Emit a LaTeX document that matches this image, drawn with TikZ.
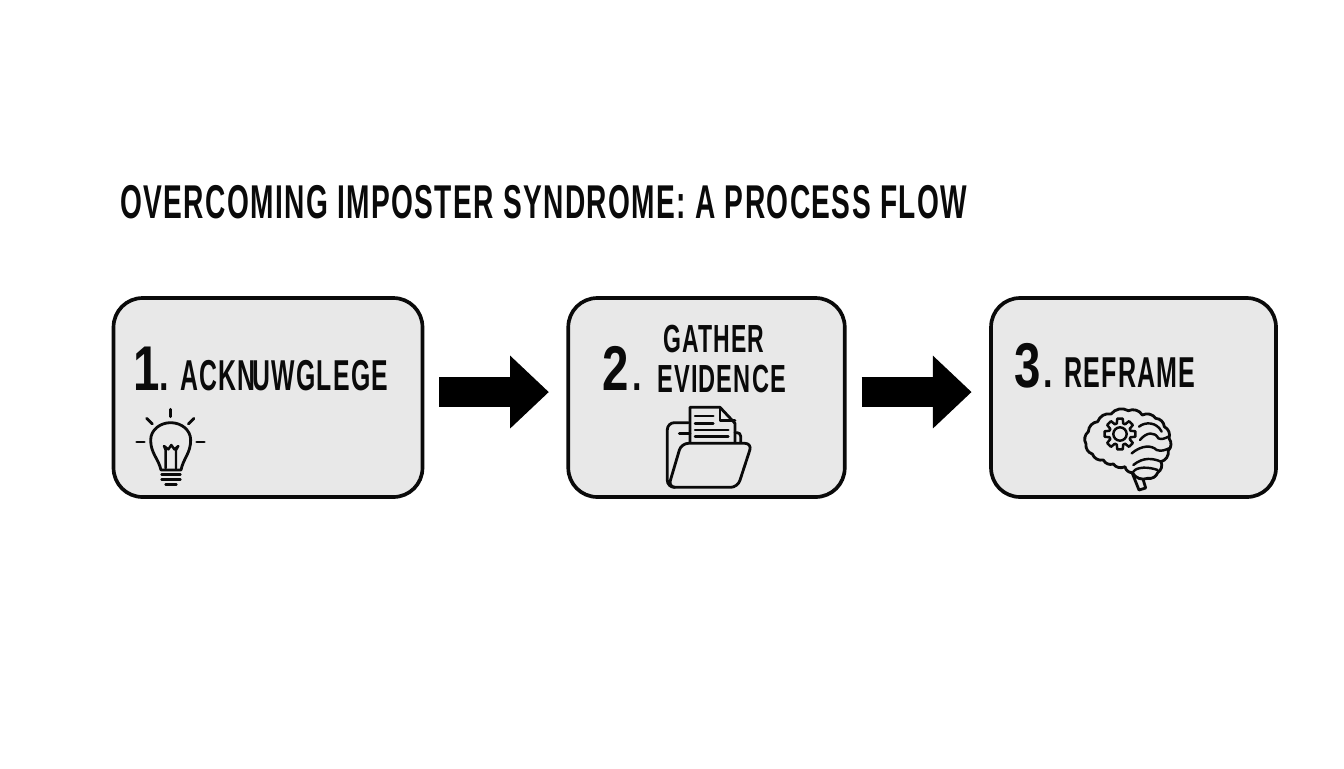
\documentclass[tikz,border=0pt]{standalone}
\usepackage{fontspec}
\setmainfont{Liberation Sans}
\newfontfamily\spacedfont[LetterSpace=5]{Liberation Sans}
\usetikzlibrary{arrows.meta}

\definecolor{boxgray}{HTML}{E8E8E8}
\definecolor{inkblack}{HTML}{0A0A0A}

\tikzset{
    stepbox/.style={draw=inkblack, line width=2.1pt, fill=boxgray, rounded corners=0.58cm, minimum height=3.98cm},
    steplabel/.style={anchor=base west, inner sep=0, text=inkblack, font=\bfseries, transform shape},
    flowarrow/.style={draw=black, line width=17pt, -{Triangle[length=22pt,width=40pt]}, shorten <=8.5pt, shorten >=10pt},
    icon/.style={draw=inkblack, line width=1.6pt, line cap=round, line join=round},
    iconthin/.style={draw=inkblack, line width=1.4pt, line cap=round, line join=round},
    bump/.style={bend left=40}
}

\newcommand{\numlabel}[2]{{\fontsize{36}{36}\selectfont #1}\hspace{#2}{\fontsize{26}{26}\selectfont .}}

\begin{document}
\begin{tikzpicture}[x=0.02cm, y=-0.02cm]
    \useasboundingbox[fill=white] (0,0) rectangle (1344,768);

    % Title
    \node[steplabel, xscale=0.5926, font=\bfseries\spacedfont\fontsize{27}{27}\selectfont] (title) at (120,218.5) {OVERCOMING IMPOSTER SYNDROME: A PROCESS FLOW};

    % Boxes
    \node[stepbox, minimum width=6.18cm] (acknowledge) at (268,397.5) {};
    \node[stepbox, minimum width=5.53cm] (evidence) at (706.5,397.5) {};
    \node[stepbox, minimum width=5.7cm] (reframe) at (1133.5,397.5) {};

    % Arrows
    \draw[flowarrow] ([yshift=3.1pt]acknowledge.east) -- ([yshift=3.1pt]evidence.west);
    \draw[flowarrow] ([yshift=3.1pt]evidence.east) -- ([yshift=3.1pt]reframe.west);

    % Box texts
    \node[steplabel, xscale=0.75] (numone) at (133,390.5) {\numlabel{1}{0pt}};
    \node[steplabel, xscale=0.574, font=\bfseries\spacedfont\fontsize{24.6}{24.6}\selectfont] (textone) at (180,390) {ACKN\kern-3pt UWGLEGE};

    \node[steplabel, xscale=0.75] (numtwo) at (602,390.5) {\numlabel{2}{3pt}};
    \node[steplabel, xscale=0.587, font=\bfseries\spacedfont\fontsize{22.3}{22.3}\selectfont] (gather) at (663,352) {GATHER};
    \node[steplabel, xscale=0.602, font=\bfseries\spacedfont\fontsize{22.3}{22.3}\selectfont] (gathertwo) at (657,392) {EVIDENCE};

    \node[steplabel, xscale=0.75] (numthree) at (1014,387.5) {\numlabel{3}{2pt}};
    \node[steplabel, xscale=0.58, font=\bfseries\spacedfont\fontsize{24.6}{24.6}\selectfont] (textthree) at (1064,387) {REFRAME};

    % Light bulb
    \begin{scope}[shift={(100,290)}, x=0.00667cm, y=-0.00667cm]
        \draw[icon] (212,358) -- (212,380);
        \draw[icon] (140,385) -- (157,402);
        \draw[icon] (282,385) -- (265,402);
        \draw[icon] (110,456) -- (133,456);
        \draw[icon] (290,456) -- (313,456);
        \draw[icon] (183,540) .. controls (175,505) and (152,490) .. (152,450)
            .. controls (152,420) and (180,398) .. (212,398)
            .. controls (244,398) and (272,420) .. (272,450)
            .. controls (272,490) and (250,505) .. (243,540) -- cycle;
        \draw[iconthin] (197,535) -- (197,480) -- (192,468) -- (205,478) -- (214,465) -- (223,478) -- (235,468) -- (228,480) -- (228,535);
        \draw[icon] (185,553) -- (241,553);
        \draw[icon] (185,568) -- (241,568);
        \draw[icon] (197,584) -- (229,584);
    \end{scope}

    % Folder
    \begin{scope}[shift={(560,290)}, x=0.00667cm, y=-0.00667cm]
        \draw[icon, rounded corners=4pt] (385,398) -- (322,398) -- (322,592) -- (345,592);
        \draw[icon, rounded corners=2pt] (525,428) -- (542,428) -- (542,458);
        \draw[icon] (358,430) -- (390,430);
        \draw[icon] (390,458) -- (390,352) -- (480,352) -- (525,400) -- (525,458);
        \draw[icon] (480,352) -- (480,392) -- (525,392);
        \draw[iconthin] (405,378) -- (460,378);
        \draw[iconthin] (405,400) -- (460,400);
        \draw[iconthin] (405,420) -- (505,420);
        \draw[iconthin] (405,440) -- (505,440);
        \draw[icon, rounded corners=4pt] (364,460) -- (576,460) -- (533,592) -- (325,592) -- cycle;
    \end{scope}

    % Brain
    \begin{scope}[shift={(985,290)}, x=0.00667cm, y=-0.00667cm]
        \draw[icon] (440,545) -- (462,600) -- (482,594) -- (472,560);
        \draw[icon, fill=boxgray] (322,492) to[bump] (303,462) to[bump] (310,425) to[bump] (338,395) to[bump] (378,372) to[bump] (430,362)
            to[bump] (472,375) to[bump] (512,385) to[bump] (538,410) to[bump] (552,445) to[bump] (550,482) to[bump] (528,515) to[bump] (518,548) to[bump] (488,565)
            to[bump] (442,548) to[bump] (420,530) to[bump] (385,522) to[bump] (355,510) to[bump] cycle;
        \draw[iconthin] (405,432) circle (3.8pt);
        \foreach \a in {0,45,...,315} {
            \draw[iconthin] ([shift={(\a-17:33)}]405,432) -- ([shift={(\a-10:47)}]405,432) -- ([shift={(\a+10:47)}]405,432) -- ([shift={(\a+17:33)}]405,432) -- ([shift={(\a+28:33)}]405,432);
        }
        \draw[iconthin] (462,410) .. controls (480,395) and (515,395) .. (530,425);
        \draw[iconthin] (465,450) .. controls (485,425) and (510,425) .. (520,445) .. controls (530,450) and (540,445) .. (550,440);
        \draw[iconthin] (440,490) .. controls (470,465) and (500,465) .. (515,480) .. controls (530,485) and (540,480) .. (552,475);
        \draw[iconthin] (445,525) .. controls (475,500) and (505,505) .. (528,515);
        \draw[iconthin] (445,545) .. controls (455,530) and (490,530) .. (518,540);
    \end{scope}
\end{tikzpicture}
\end{document}
